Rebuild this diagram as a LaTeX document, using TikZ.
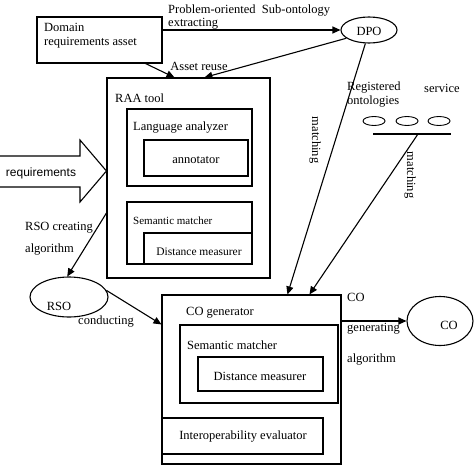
\documentclass[tikz,border=0pt]{standalone}
\usepackage{fontspec}
\setmainfont{Liberation Serif}
\newfontfamily\arialfont{Liberation Sans}
\usetikzlibrary{arrows.meta,shapes.geometric,calc}
\tikzset{
  box/.style={draw,line width=1.1pt,inner sep=0pt,fill=none},
  oval/.style={draw,ellipse,line width=1.1pt,inner sep=0pt},
  lbl/.style={inner sep=0pt,font=\fontsize{12.5}{14}\selectfont},
  lbll/.style={lbl,anchor=west},
  small/.style={inner sep=0pt,anchor=west,font=\fontsize{11}{13}\selectfont},
  conn/.style={line width=1.1pt,-{Triangle[length=8pt,width=7pt]}},
  plain/.style={line width=1.1pt}
}
\begin{document}
\begin{tikzpicture}[x=1pt,y=-1pt]
\useasboundingbox (0,0) rectangle (474,466);
% boxes
\node[box,minimum width=125pt,minimum height=46pt] (dom) at (99.5,40) {};
\node[box,minimum width=163pt,minimum height=200pt] (raa) at (188.5,178) {};
\node[box,minimum width=125pt,minimum height=77pt] (lang) at (189.5,147.5) {};
\node[box,minimum width=104pt,minimum height=36pt] (ann) at (196,158) {};
\node[box,minimum width=125pt,minimum height=62pt] (sm1) at (189.5,233) {};
\node[box,minimum width=108pt,minimum height=31pt] (dm1) at (198,248.5) {};
\node[box,minimum width=179pt,minimum height=169pt] (cog) at (251.5,379.5) {};
\node[box,minimum width=158pt,minimum height=78pt] (sm2) at (259,364) {};
\node[box,minimum width=125pt,minimum height=34pt] (dm2) at (260.5,374) {};
\node[box,minimum width=161pt,minimum height=36pt] (iop) at (242.5,436) {};
% ellipses
\node[oval,minimum width=56pt,minimum height=26pt] (dpo) at (369,30) {};
\node[oval,minimum width=78pt,minimum height=40pt] (rso) at (69,297) {};
\node[oval,minimum width=66pt,minimum height=49pt] (co) at (440,321) {};
\node[oval,line width=0.9pt,minimum width=22pt,minimum height=9pt] (o1) at (374,121) {};
\node[oval,line width=0.9pt,minimum width=22pt,minimum height=9pt] (o2) at (407,121) {};
\node[oval,line width=0.9pt,minimum width=22pt,minimum height=9pt] (o3) at (439,121) {};
\coordinate (regl) at (373,134);
\coordinate (regr) at (451,134);
\coordinate (regm) at (418,134);
\draw[plain] (regl) -- (regr);
% big requirements arrow
\draw[line width=1.1pt,fill=white] (-2,156) -- (80,156) -- (80,140) -- (raa.west |- 0,171) -- (80,202) -- (80,187) -- (-2,187);
% labels
\node[lbl] at (dom.center) {};
\node[lbll] at (44,27) {Domain};
\node[lbll] at (44,43) {requirements asset};
\node[lbll] at (168,11) {Problem-oriented\ \ Sub-ontology};
\node[lbll] at (168,24) {extracting};
\node[lbl] at (199,66) {Asset reuse};
\node[lbl] at (369,31) {DPO};
\node[lbll] at (115,98) {RAA tool};
\node[lbll] at (133,128) {Language analyzer};
\node[lbl] at (196,160) {annotator};
\node[small] at (133,221) {Semantic matcher};
\node[lbl,font=\fontsize{11.5}{13}\selectfont] at (199,252) {Distance measurer};
\node[inner sep=0pt,font=\arialfont\fontsize{12}{14}\selectfont] at (41,173) {requirements};
\node[lbll] at (25,228) {RSO creating};
\node[lbll] at (25,250) {algorithm};
\node[lbl] at (59,306) {RSO};
\node[lbl] at (106,322) {conducting};
\node[lbll] at (186,313) {CO generator};
\node[lbll] at (187,345) {Semantic matcher};
\node[lbl] at (260,376) {Distance measurer};
\node[lbl] at (243,437) {Interoperability evaluator};
\node[lbll] at (347,297) {CO};
\node[lbll] at (347,329) {generating};
\node[lbll] at (347,360) {algorithm};
\node[lbl] at (449,325) {CO};
\node[lbll] at (347,88) {Registered};
\node[lbll] at (424,88) {service};
\node[lbll] at (347,102) {ontologies};
\node[lbl,rotate=-90] at (315,140) {matching};
\node[lbl,rotate=-90] at (410,175) {matching};
% connectors
\draw[conn] (dom.east |- dpo.west) -- (dpo.west);
\draw[conn] ([xshift=-17pt]dom.south east) -- ([xshift=68pt]raa.north west);
\draw[conn] (dpo.200) -- ([xshift=98pt]raa.north west);
\draw[conn] (dpo.255) -- ([xshift=126pt]cog.north west);
\draw[conn] (regm) -- ([xshift=148pt]cog.north west);
\draw[conn] ([yshift=-35pt]raa.west) -- (rso.95);
\draw[conn] (rso.10) -- ([yshift=-30pt]cog.north west);
\draw[conn] (cog.east |- co.west) -- (co.west);
\end{tikzpicture}
\end{document}
